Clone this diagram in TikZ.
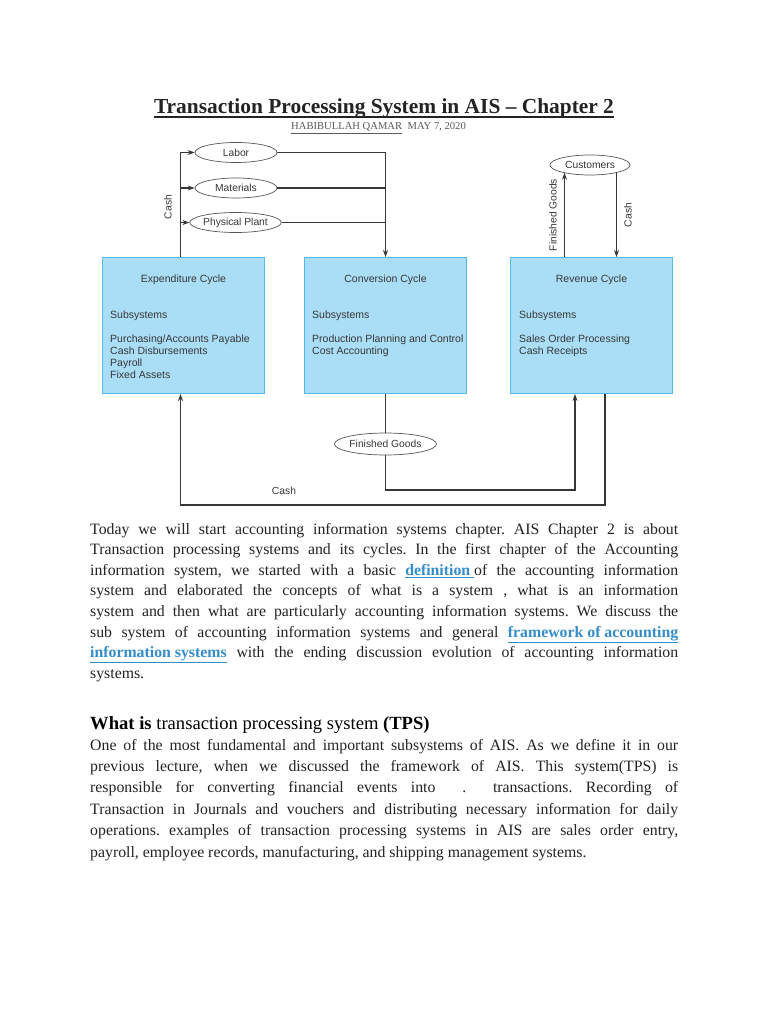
\documentclass[tikz,border=0pt]{standalone}
\usepackage{fontspec}
\setmainfont{Liberation Serif}
\newfontfamily\dsans{Liberation Sans}
\usetikzlibrary{arrows.meta,shapes.geometric}
\definecolor{boxfill}{RGB}{170,222,246}
\definecolor{boxline}{RGB}{85,185,232}
\definecolor{lnk}{RGB}{52,140,200}
\definecolor{ink}{RGB}{55,55,55}
\definecolor{txt}{RGB}{35,35,35}
\definecolor{subgray}{RGB}{90,90,90}
\newcommand\jline[1]{\makebox[588pt][s]{#1}}
\newcommand\lk[1]{\textcolor{lnk}{\bfseries\underline{#1}}}
\frenchspacing
\begin{document}
\begin{tikzpicture}[x=1pt,y=-1pt,
 cycle/.style={draw=boxline, fill=boxfill, line width=1pt, minimum width=162pt, minimum height=136pt, inner sep=0pt},
 res/.style={ellipse, draw=ink!85, line width=0.7pt, fill=white, minimum width=82pt, minimum height=20pt, inner sep=0pt, font=\dsans\fontsize{10.3}{12}\selectfont, text=ink},
 flow/.style={draw=ink, line width=1.4pt},
 arr/.style={flow, -{Stealth[length=7pt,width=5pt]}},
 lbl/.style={font=\dsans\fontsize{10.3}{12}\selectfont, text=ink, inner sep=0pt},
 bt/.style={font=\dsans\fontsize{10.5}{12.3}\selectfont, text=ink, inner sep=0pt, anchor=base west},
 bth/.style={font=\dsans\fontsize{10.5}{12.3}\selectfont, text=ink, inner sep=0pt, anchor=base},
 body/.style={anchor=base west, inner sep=0pt, font=\fontsize{15.8}{20}\selectfont, text=txt},
]
\useasboundingbox (0,0) rectangle (768,1024);
\fill[white] (0,0) rectangle (768,1024);

% title
\node[anchor=base, inner sep=0pt, font=\bfseries\fontsize{21.4}{25}\selectfont, text=txt] (title) at (384,114) {Transaction Processing System in AIS -- Chapter 2};
\draw[txt, line width=1.2pt] ([yshift=-3pt]title.base west) -- ([yshift=-3pt]title.base east);
\node[anchor=base west, inner sep=0pt, font=\fontsize{10.6}{12}\selectfont, text=subgray] (sub1) at (291,130) {\underline{HABIBULLAH QAMAR}};
\node[anchor=base west, inner sep=0pt, font=\fontsize{10.6}{12}\selectfont, text=subgray] (sub2) at ([xshift=5pt]sub1.base east) {MAY 7, 2020};

% cycle boxes
\node[cycle] (exp) at (183.5,325.5) {};
\node[cycle] (conv) at (385.5,325.5) {};
\node[cycle] (rev) at (591.5,325.5) {};

\node[bth] (expt) at (183.5,282) {Expenditure Cycle};
\node[bt] (exps) at (110,318) {Subsystems};
\node[bt] (exp1) at (110,342) {Purchasing/Accounts Payable};
\node[bt] (exp2) at (110,354.3) {Cash Disbursements};
\node[bt] (exp3) at (110,366.6) {Payroll};
\node[bt] (exp4) at (110,378.9) {Fixed Assets};

\node[bth] (convt) at (385.5,282) {Conversion Cycle};
\node[bt] (convs) at (312,318) {Subsystems};
\node[bt] (conv1) at (312,342) {Production Planning and Control};
\node[bt] (conv2) at (312,354.3) {Cost Accounting};

\node[bth] (revt) at (591.5,282) {Revenue Cycle};
\node[bt] (revs) at (519,318) {Subsystems};
\node[bt] (rev1) at (519,342) {Sales Order Processing};
\node[bt] (rev2) at (519,354.3) {Cash Receipts};

% resources
\node[res] (labor) at (236,152.5) {Labor};
\node[res] (mat) at (236,188) {Materials};
\node[res] (plant) at (235.5,222.5) {Physical Plant};
\node[res, minimum width=80pt] (cust) at (590,165) {Customers};
\node[res, minimum width=87pt, minimum height=22pt] (fg) at (385.5,444) {Finished Goods};

% top left cash and resources flows
\coordinate (cL) at (180.5,152.5);
\coordinate (cR) at (385.5,152.5);
\draw[flow] (exp.north -| cL) -- (cL);
\draw[arr] (cL) -- (labor.west);
\draw[arr] (cL |- mat) -- (mat.west);
\draw[arr] (cL |- plant) -- (plant.west);
\draw[flow] (labor.east) -- (cR);
\draw[flow] (mat.east) -- (mat -| cR);
\draw[flow] (plant.east) -- (plant -| cR);
\draw[arr] (cR) -- (conv.north);
\node[lbl, rotate=90] (cashl) at (168,207) {Cash};

% revenue and customers
\path (cust.center) ++(-25.5,7.7) coordinate (cfg);
\path (cust.center) ++(26.5,7.5) coordinate (ccash);
\draw[arr] (rev.north -| cfg) -- (cfg);
\draw[arr] (ccash) -- (rev.north -| ccash);
\node[lbl, rotate=90] (fgl) at (553,215) {Finished Goods};
\node[lbl, rotate=90] (cashr) at (628,215) {Cash};

% bottom flows
\coordinate (b1) at (385.5,490);
\coordinate (b1r) at (575,490);
\coordinate (b2r) at (605,505);
\coordinate (b2l) at (180.5,505);
\draw[flow] (conv.south) -- (fg.north);
\draw[arr] (fg.south) -- (b1) -- (b1r) -- (rev.south -| b1r);
\draw[arr] (rev.south -| b2r) -- (b2r) -- (b2l) -- (exp.south -| b2l);
\node[lbl] (cashb) at (284,491) {Cash};

% paragraph 1
\node[body] (p1a) at (90,534) {\jline{Today we will start accounting information systems chapter. AIS Chapter 2 is about}};
\node[body] (p1b) at (90,554.6) {\jline{Transaction processing systems and its cycles. In the first chapter of the Accounting}};
\node[body] (p1c) at (90,575.2) {\jline{information system, we started with a basic \lk{definition\ }of the accounting information}};
\node[body] (p1d) at (90,595.8) {\jline{system and elaborated the concepts of what is a system , what is an information}};
\node[body] (p1e) at (90,616.4) {\jline{system and then what are particularly accounting information systems. We discuss the}};
\node[body] (p1f) at (90,637) {\jline{sub system of accounting information systems and general \lk{framework of accounting}}};
\node[body] (p1g) at (90,657.6) {\jline{\lk{information systems} with the ending discussion evolution of accounting information}};
\node[body] (p1h) at (90,678.2) {systems.};

% heading
\node[anchor=base west, inner sep=0pt, font=\fontsize{18.6}{22}\selectfont, text=black] (head) at (90,729) {\textbf{What is} transaction processing system \textbf{(TPS)}};

% paragraph 2
\node[body] (p2a) at (90,750) {\jline{One of the most fundamental and important subsystems of AIS. As we define it in our}};
\node[body] (p2b) at (90,771.4) {\jline{previous lecture, when we discussed the framework of AIS. This system(TPS) is}};
\node[body] (p2c) at (90,792.8) {\jline{responsible for converting financial events into \ . \ transactions. Recording of}};
\node[body] (p2d) at (90,814.2) {\jline{Transaction in Journals and vouchers and distributing necessary information for daily}};
\node[body] (p2e) at (90,835.6) {\jline{operations. examples of transaction processing systems in AIS are sales order entry,}};
\node[body] (p2f) at (90,857) {payroll, employee records, manufacturing, and shipping management systems.};
\end{tikzpicture}
\end{document}
